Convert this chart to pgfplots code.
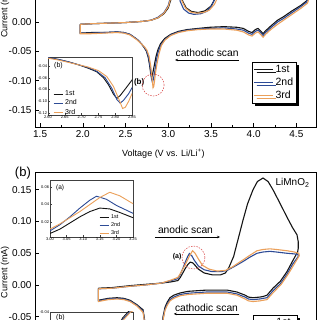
\documentclass[border=0pt]{standalone}
\usepackage{fontspec}
\setmainfont{Liberation Sans}
\usepackage{pgfplots}
\usepackage{pgfplotstable}
\pgfplotsset{compat=1.18}
\usetikzlibrary{shadows,arrows.meta}
\definecolor{c1}{RGB}{20,20,20}
\definecolor{c2}{RGB}{45,75,150}
\definecolor{c3}{RGB}{235,160,90}
\definecolor{circ}{RGB}{215,60,60}

% ---------- top panel (a) ----------
\pgfplotstableread{
V I
1.97 -0.004
2.10 -0.003
2.30 -0.002
2.50 -0.001
2.70 0.001
2.80 0.003
2.88 0.007
2.95 0.014
3.00 0.024
3.04 0.042
3.08 0.080
3.13 0.060
3.17 0.035
3.21 0.024
3.27 0.018
3.35 0.016
3.43 0.019
3.50 0.027
3.55 0.040
3.60 0.065
3.80 0.090
4.00 0.120
4.15 0.140
4.35 0.110
4.55 0.080
4.66 0.050
4.62 0.036
4.55 0.028
4.45 0.019
4.35 0.009
4.28 0.003
4.20 -0.007
4.14 -0.015
4.11 -0.020
4.08 -0.015
4.05 -0.011
4.02 -0.013
3.98 -0.018
3.94 -0.016
3.88 -0.011
3.80 -0.009
3.65 -0.008
3.49 -0.009
3.35 -0.011
3.22 -0.013
3.12 -0.016
3.03 -0.021
2.96 -0.028
2.91 -0.037
2.88 -0.047
2.86 -0.057
2.85 -0.064
2.83 -0.079
2.815 -0.090
2.805 -0.095
2.795 -0.088
2.78 -0.072
2.765 -0.060
2.745 -0.050
2.72 -0.044
2.69 -0.038
2.66 -0.033
2.63 -0.029
2.60 -0.026
2.55 -0.021
2.48 -0.018
2.40 -0.017
2.25 -0.018
2.10 -0.018
1.97 -0.019
1.97 -0.004
}\TopOne
\pgfplotstableread{
V I
1.97 -0.004
2.10 -0.003
2.30 -0.002
2.50 -0.001
2.70 0.001
2.80 0.003
2.88 0.008
2.95 0.016
3.00 0.028
3.04 0.050
3.08 0.090
3.12 0.055
3.14 0.035
3.18 0.022
3.24 0.015
3.30 0.013
3.38 0.014
3.45 0.018
3.51 0.028
3.56 0.045
3.62 0.070
3.80 0.090
4.00 0.115
4.15 0.130
4.35 0.105
4.55 0.075
4.66 0.050
4.62 0.034
4.55 0.026
4.45 0.016
4.35 0.006
4.28 0.000
4.20 -0.010
4.14 -0.018
4.11 -0.023
4.08 -0.018
4.05 -0.014
4.02 -0.016
3.98 -0.021
3.94 -0.019
3.88 -0.014
3.80 -0.012
3.65 -0.010
3.49 -0.011
3.35 -0.012
3.22 -0.014
3.12 -0.017
3.03 -0.022
2.96 -0.030
2.91 -0.040
2.88 -0.052
2.86 -0.066
2.85 -0.077
2.84 -0.087
2.825 -0.098
2.815 -0.103
2.805 -0.097
2.79 -0.078
2.77 -0.060
2.745 -0.049
2.72 -0.043
2.69 -0.038
2.66 -0.033
2.63 -0.029
2.60 -0.026
2.55 -0.021
2.48 -0.018
2.40 -0.017
2.25 -0.018
2.10 -0.019
1.97 -0.019
1.97 -0.004
}\TopTwo
\pgfplotstableread{
V I
1.97 -0.004
2.10 -0.003
2.30 -0.002
2.50 -0.001
2.70 0.001
2.80 0.003
2.88 0.007
2.95 0.015
3.00 0.026
3.04 0.046
3.08 0.085
3.13 0.058
3.16 0.036
3.20 0.024
3.26 0.017
3.33 0.015
3.41 0.016
3.48 0.020
3.54 0.030
3.59 0.045
3.64 0.070
3.80 0.088
4.00 0.112
4.15 0.128
4.35 0.100
4.55 0.072
4.67 0.050
4.63 0.032
4.55 0.023
4.45 0.013
4.35 0.003
4.28 -0.004
4.20 -0.013
4.14 -0.021
4.11 -0.026
4.08 -0.021
4.05 -0.017
4.02 -0.019
3.98 -0.024
3.94 -0.022
3.88 -0.017
3.80 -0.014
3.65 -0.012
3.49 -0.012
3.35 -0.013
3.22 -0.015
3.12 -0.018
3.03 -0.023
2.96 -0.031
2.92 -0.040
2.89 -0.055
2.87 -0.070
2.85 -0.087
2.84 -0.100
2.83 -0.110
2.822 -0.112
2.81 -0.095
2.795 -0.075
2.775 -0.058
2.75 -0.048
2.72 -0.042
2.69 -0.038
2.66 -0.034
2.63 -0.030
2.60 -0.027
2.55 -0.022
2.48 -0.019
2.40 -0.018
2.25 -0.019
2.10 -0.020
1.97 -0.020
1.97 -0.004
}\TopThree

% ---------- bottom panel (b) ----------
\pgfplotstableread{
V I
2.03 -0.005
2.20 -0.004
2.416 -0.001
2.60 0.001
2.80 0.003
2.92 0.005
3.00 0.007
3.03 0.012
3.06 0.019
3.09 0.026
3.12 0.032
3.15 0.036
3.18 0.035
3.21 0.031
3.25 0.025
3.32 0.019
3.42 0.016
3.52 0.016
3.58 0.019
3.62 0.027
3.68 0.045
3.74 0.075
3.794 0.102
3.85 0.128
3.916 0.150
3.97 0.163
4.038 0.1685
4.10 0.163
4.16 0.150
4.24 0.130
4.33 0.107
4.40 0.090
4.453 0.079
4.468 0.068
4.468 0.058
4.46 0.052
4.40 0.038
4.33 0.021
4.25 0.006
4.16 -0.005
4.12 -0.011
4.087 -0.016
4.04 -0.018
4.00 -0.019
3.916 -0.020
3.86 -0.019
3.82 -0.016
3.72 -0.011
3.60 -0.008
3.477 -0.008
3.35 -0.008
3.233 -0.009
3.12 -0.010
3.026 -0.0126
2.95 -0.016
2.904 -0.020
2.87 -0.027
2.843 -0.035
2.819 -0.050
2.79 -0.080
2.74 -0.115
2.70 -0.120
2.65 -0.095
2.60 -0.060
2.575 -0.039
2.50 -0.031
2.416 -0.024
2.34 -0.021
2.258 -0.020
2.15 -0.021
2.03 -0.024
2.03 -0.005
}\BotOne
\pgfplotstableread{
V I
2.03 -0.006
2.20 -0.005
2.416 -0.002
2.60 0.000
2.80 0.003
2.92 0.007
3.00 0.010
3.03 0.017
3.06 0.026
3.09 0.036
3.12 0.045
3.14 0.0495
3.17 0.046
3.20 0.039
3.25 0.030
3.32 0.024
3.42 0.021
3.52 0.021
3.60 0.023
3.70 0.030
3.794 0.037
3.88 0.044
3.965 0.050
4.04 0.052
4.123 0.053
4.20 0.052
4.33 0.050
4.42 0.049
4.465 0.048
4.468 0.045
4.40 0.033
4.33 0.017
4.25 0.002
4.16 -0.009
4.12 -0.015
4.087 -0.020
4.04 -0.021
4.00 -0.022
3.916 -0.023
3.86 -0.022
3.82 -0.019
3.72 -0.014
3.60 -0.011
3.477 -0.011
3.35 -0.011
3.233 -0.012
3.12 -0.013
3.026 -0.015
2.95 -0.019
2.904 -0.023
2.87 -0.030
2.843 -0.038
2.819 -0.053
2.79 -0.083
2.74 -0.118
2.70 -0.123
2.65 -0.097
2.60 -0.062
2.575 -0.041
2.50 -0.032
2.416 -0.025
2.34 -0.022
2.258 -0.021
2.15 -0.022
2.03 -0.025
2.03 -0.006
}\BotTwo
\pgfplotstableread{
V I
2.03 -0.006
2.20 -0.005
2.416 -0.002
2.60 0.000
2.80 0.003
2.92 0.008
3.00 0.012
3.03 0.018
3.06 0.025
3.09 0.032
3.12 0.040
3.15 0.048
3.18 0.054
3.21 0.050
3.25 0.041
3.30 0.031
3.38 0.025
3.48 0.022
3.58 0.023
3.66 0.028
3.74 0.035
3.80 0.040
3.88 0.047
3.965 0.054
4.04 0.056
4.123 0.057
4.20 0.056
4.33 0.054
4.42 0.052
4.475 0.050
4.48 0.046
4.42 0.033
4.34 0.016
4.26 0.001
4.17 -0.011
4.12 -0.018
4.087 -0.023
4.04 -0.024
4.00 -0.025
3.916 -0.026
3.86 -0.025
3.82 -0.022
3.72 -0.016
3.60 -0.013
3.477 -0.013
3.35 -0.013
3.233 -0.014
3.12 -0.015
3.026 -0.017
2.95 -0.021
2.904 -0.025
2.87 -0.032
2.843 -0.040
2.819 -0.055
2.79 -0.085
2.74 -0.120
2.70 -0.126
2.65 -0.099
2.60 -0.064
2.575 -0.043
2.50 -0.033
2.416 -0.026
2.34 -0.023
2.258 -0.022
2.15 -0.023
2.03 -0.026
2.03 -0.006
}\BotThree

\pgfplotsset{
  mainax/.style={
    scale only axis, width=281pt,
    axis line style={line width=0.8pt},
    tick style={black, line width=0.6pt},
    major tick length=3.5pt, minor tick length=2pt,
    tick align=inside, xtick pos=bottom, ytick pos=left,
    scaled ticks=false, clip mode=individual,
    /pgf/number format/assume math mode=true,
    ticklabel style={font=\fontsize{10}{12}\selectfont},
    label style={font=\fontsize{9}{11}\selectfont},
    y tick label style={/pgf/number format/fixed, /pgf/number format/fixed zerofill, /pgf/number format/precision=2},
    x tick label style={/pgf/number format/fixed, /pgf/number format/fixed zerofill, /pgf/number format/precision=1},
    legend cell align=left,
    legend image code/.code={\draw[##1,line width=1.2pt] (0pt,0pt) -- (19pt,0pt);},
  },
  inax/.style={
    scale only axis,
    axis line style={line width=0.5pt, black!75},
    tick style={black!75, line width=0.4pt},
    major tick length=1.5pt,
    tick align=inside, xtick pos=bottom, ytick pos=left,
    scaled ticks=false, clip mode=individual,
    /pgf/number format/assume math mode=true,
    ticklabel style={font=\fontsize{4}{5}\selectfont, inner sep=0.8pt},
    y tick label style={/pgf/number format/fixed, /pgf/number format/fixed zerofill, /pgf/number format/precision=2},
    x tick label style={/pgf/number format/fixed, /pgf/number format/fixed zerofill, /pgf/number format/precision=2},
    legend cell align=left,
    legend image code/.code={\draw[##1,line width=0.9pt] (0pt,0pt) -- (9pt,0pt);},
  },
}

\begin{document}
\begin{tikzpicture}
\path[use as bounding box] (0pt,0pt) rectangle (320pt,320pt);
\clip (0pt,0pt) rectangle (320pt,320pt);

% ===== top main axis =====
\begin{axis}[mainax,
  at={(35pt,193pt)}, anchor=south west, height=230pt,
  xmin=1.44, xmax=4.73, ymin=-0.179, ymax=0.213,
  xtick={1.5,2.0,...,4.5}, minor x tick num=1,
  ytick={-0.15,-0.10,-0.05,0.00},
  xlabel={Voltage (V vs. Li/Li\textsuperscript{+})},
  xlabel style={at={(axis description cs:0.457,0)}, anchor=north, yshift=-19pt},
  ylabel={Current (mA)},
  ylabel style={at={(axis description cs:-0.1068,0.5)}, anchor=center},
  legend style={at={(0.772,0.2826)}, anchor=north west, draw=black, line width=0.6pt,
    fill=white, font=\fontsize{10.5}{12}\selectfont, inner sep=1.2pt, row sep=0pt,
    drop shadow={shadow xshift=2.5pt, shadow yshift=-2.5pt, fill=black, opacity=1}},
]
\addplot[c1, line width=1.1pt] table[x=V,y=I] {\TopOne};
\addlegendentry{1st}
\addplot[c2, line width=1.1pt] table[x=V,y=I] {\TopTwo};
\addlegendentry{2nd}
\addplot[c3, line width=1.1pt] table[x=V,y=I] {\TopThree};
\addlegendentry{3rd}
\node[font=\fontsize{10.3}{12}\selectfont] at (axis cs:3.455,-0.0529) {cathodic scan};
\draw[-{Stealth[length=3pt,width=2.5pt]}, line width=0.5pt] (axis cs:3.83,-0.0648) -- (axis cs:3.08,-0.0648);
\node[font=\bfseries\fontsize{8}{9}\selectfont] at (axis cs:2.659,-0.1024) {(b)};
\draw[circ, dashed, line width=0.5pt, dash pattern=on 1.5pt off 1.2pt] (axis cs:2.823,-0.1075) circle[radius=11pt];
\end{axis}

% ===== top inset (b) =====
\begin{axis}[inax,
  at={(48pt,205pt)}, anchor=south west, width=84pt, height=58pt,
  axis background/.style={fill=white},
  xmin=2.60, xmax=2.85, ymin=-0.123, ymax=-0.025,
  xtick={2.60,2.65,...,2.85}, ytick={-0.12,-0.10,-0.08,-0.06,-0.04},
  legend style={at={(0.06,0.45)}, anchor=north west, draw=none, fill=none,
    font=\fontsize{7}{8}\selectfont, inner sep=0pt, row sep=-1.5pt},
]
\addplot[c1, line width=0.9pt] table[x=V,y=I] {\TopOne};
\addlegendentry{1st}
\addplot[c2, line width=0.9pt] table[x=V,y=I] {\TopTwo};
\addlegendentry{2nd}
\addplot[c3, line width=0.9pt] table[x=V,y=I] {\TopThree};
\addlegendentry{3rd}
\node[anchor=north west, font=\fontsize{7}{8}\selectfont, inner sep=1pt] at (rel axis cs:0.06,0.93) {(b)};
\end{axis}

% ===== bottom main axis =====
\begin{axis}[mainax,
  at={(35pt,-52pt)}, anchor=south west, height=200pt,
  xmin=1.2576, xmax=4.6844, ymin=-0.137, ymax=0.178,
  xtick={1.5,2.0,...,4.5}, minor x tick num=1, xticklabels={},
  ytick={-0.05,0.00,0.05,0.10,0.15},
  ylabel={Current (mA)},
  ylabel style={at={(axis description cs:-0.1068,0.5)}, anchor=center},
  legend style={at={(0.775,0.285)}, anchor=north west, draw=black, line width=0.6pt,
    fill=white, font=\fontsize{10.5}{12}\selectfont, inner sep=1.2pt, row sep=0pt,
    drop shadow={shadow xshift=2.5pt, shadow yshift=-2.5pt, fill=black, opacity=1}},
]
\addplot[c1, line width=1.1pt] table[x=V,y=I] {\BotOne};
\addlegendentry{1st}
\addplot[c2, line width=1.1pt] table[x=V,y=I] {\BotTwo};
\addlegendentry{2nd}
\addplot[c3, line width=1.1pt] table[x=V,y=I] {\BotThree};
\addlegendentry{3rd}
\node[font=\fontsize{10.3}{12}\selectfont] at (axis cs:3.093,0.0866) {anodic scan};
\draw[-{Stealth[length=3pt,width=2.5pt]}, line width=0.5pt] (axis cs:2.72,0.0756) -- (axis cs:3.514,0.0756);
\node[font=\fontsize{10.3}{12}\selectfont] at (axis cs:3.349,-0.0362) {cathodic scan};
\draw[-{Stealth[length=3pt,width=2.5pt]}, line width=0.5pt] (axis cs:3.75,-0.0455) -- (axis cs:2.95,-0.0455);
\node[font=\fontsize{10}{12}\selectfont] at (axis cs:4.398,0.1606) {LiMnO\textsubscript{2}};
\node[font=\bfseries\fontsize{7}{8}\selectfont] at (axis cs:2.99,0.045) {(a)};
\draw[circ, dashed, line width=0.5pt, dash pattern=on 1.5pt off 1.2pt] (axis cs:3.19,0.0433) circle[radius=11.5pt];
\node[font=\fontsize{13}{15}\selectfont] at (axis description cs:-0.043,0.995) {(b)};
\end{axis}

% ===== bottom inset (a) =====
\begin{axis}[inax,
  at={(50pt,83pt)}, anchor=south west, width=83pt, height=57pt,
  axis background/.style={fill=white},
  xmin=3.00, xmax=3.25, ymin=0.003, ymax=0.068,
  xtick={3.00,3.05,...,3.25}, ytick={0.02,0.04,0.06},
  legend style={at={(0.59,0.43)}, anchor=north west, draw=none, fill=none,
    font=\fontsize{5.5}{6}\selectfont, inner sep=0pt, row sep=-1.5pt},
]
\addplot[c1, line width=0.9pt] table[x=V,y=I] {\BotOne};
\addlegendentry{1st}
\addplot[c2, line width=0.9pt] table[x=V,y=I] {\BotTwo};
\addlegendentry{2nd}
\addplot[c3, line width=0.9pt] table[x=V,y=I] {\BotThree};
\addlegendentry{3rd}
\node[anchor=west, font=\fontsize{6.5}{7}\selectfont, inner sep=1pt] at (rel axis cs:0.06,0.86) {(a)};
\end{axis}

% ===== bottom inset (b) =====
\begin{axis}[inax,
  at={(50pt,-50pt)}, anchor=south west, width=83pt, height=58pt,
  xmin=2.60, xmax=2.85, ymin=-0.14, ymax=-0.04,
  xtick={2.60,2.65,...,2.85}, xticklabels={}, ytick={-0.04},
]
\addplot[c1, line width=0.9pt] table[x=V,y=I] {\BotOne};
\addplot[c2, line width=0.9pt] table[x=V,y=I] {\BotTwo};
\addplot[c3, line width=0.9pt] table[x=V,y=I] {\BotThree};
\node[anchor=north west, font=\fontsize{7}{8}\selectfont, inner sep=1pt] at (rel axis cs:0.06,0.98) {(b)};
\end{axis}
\end{tikzpicture}
\end{document}
